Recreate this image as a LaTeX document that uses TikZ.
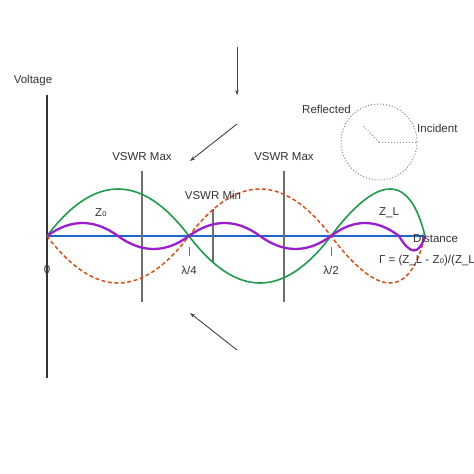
\documentclass[tikz,border=0pt]{standalone}
\usepackage{fontspec}
\setmainfont{Liberation Sans}
\newfontfamily\dejavu{DejaVu Sans}
\usetikzlibrary{arrows.meta}
\definecolor{txt}{HTML}{333333}
\definecolor{axisc}{HTML}{333333}
\definecolor{vline}{HTML}{6E6E6E}
\definecolor{blueline}{HTML}{1E66C8}
\definecolor{greenc}{HTML}{1F9A4A}
\definecolor{purplec}{HTML}{9A1FCC}
\definecolor{orangec}{HTML}{D2521C}
\definecolor{arrowc}{HTML}{444444}
\definecolor{dotc}{HTML}{888888}
\tikzset{
  lbl/.style={font=\fontsize{11.5}{13}\selectfont, text=txt, inner sep=0pt},
  marker/.style={vline, line width=1.4pt},
  pointer/.style={arrowc, line width=0.9pt, -{Stealth[length=5pt,width=3.5pt]}},
  dotline/.style={dotc, line width=1pt, dotted},
}
\begin{document}
\begin{tikzpicture}[x=1pt,y=-1pt]
\useasboundingbox (0,0) rectangle (474,474);
\clip (0,0) rectangle (474,474);
\fill[white] (0,0) rectangle (474,474);

% axes
\coordinate (ytop) at (47,95);
\coordinate (ybot) at (47,378);
\coordinate (o) at (47,236);
\coordinate (xend) at (425,236);
\draw[axisc, line width=1.8pt] (ytop) -- (ybot);
\draw[blueline, line width=2.4pt] (o) -- (xend);

% vertical markers
\coordinate (m1t) at (142,171); \coordinate (m1b) at (142,302);
\coordinate (m2t) at (284,171); \coordinate (m2b) at (284,302);
\coordinate (m3t) at (213,209); \coordinate (m3b) at (213,263);
\draw[marker] (m1t) -- (m1b);
\draw[marker] (m2t) -- (m2b);
\draw[marker] (m3t) -- (m3b);
\coordinate (t1a) at (189,247); \coordinate (t1b) at (189,256);
\coordinate (t2a) at (331,247); \coordinate (t2b) at (331,256);
\draw[vline, line width=1pt] (t1a) -- (t1b);
\draw[vline, line width=1pt] (t2a) -- (t2b);

% curves
\draw[orangec, line width=1.5pt, dash pattern=on 4pt off 2.5pt]
  (47,236) .. controls (94.33,298.67) and (141.67,298.67) .. (189,236)
  .. controls (236.33,173.33) and (283.67,173.33) .. (331,236)
  .. controls (378.33,298.67) and (409.67,298.67) .. (425,236);
\draw[greenc, line width=1.6pt]
  (47,236) .. controls (94.33,173.33) and (141.67,173.33) .. (189,236)
  .. controls (236.33,298.67) and (283.67,298.67) .. (331,236)
  .. controls (378.33,173.33) and (409.67,173.33) .. (425,236);
\draw[purplec, line width=2.3pt]
  (47,236) .. controls (70.67,218.67) and (94.33,218.67) .. (118,236)
  .. controls (141.67,253.33) and (165.33,253.33) .. (189,236)
  .. controls (212.67,218.67) and (236.33,218.67) .. (260,236)
  .. controls (283.67,253.33) and (307.33,253.33) .. (331,236)
  .. controls (353.67,218.67) and (376.33,218.67) .. (399,236)
  .. controls (410.33,255.33) and (419,255.33) .. (425,236);

% labels
\node[lbl] (voltage) at (33,81) {Voltage};
\node[lbl] (vmax1) at (142,157) {VSWR Max};
\node[lbl] (vmax2) at (284,157) {VSWR Max};
\node[lbl] (vmin) at (213,195) {VSWR Min};
\node[lbl, anchor=west] (z0) at (95,213) {Z{\dejavu ₀}};
\node[lbl] (zl) at (389,213) {Z\_L};
\node[lbl] (zero) at (47,270) {0};
\node[lbl] (l4) at (189,270) {λ/4};
\node[lbl] (l2) at (331,270) {λ/2};
\node[lbl, anchor=west] (dist) at (413,238) {Distance};
\node[lbl, anchor=west] (gamma) at (379,261) {Γ = (Z\_L - Z{\dejavu ₀})/(Z\_L};
\node[lbl, anchor=east] (refl) at (351,109) {Reflected};
\node[lbl, anchor=west] (inc) at (417,128) {Incident};

% phasor circle
\coordinate (pc) at (379,142);
\coordinate (pinc) at (417,142);
\coordinate (pref) at (362,125);
\draw[dotline] (pc) circle[radius=38];
\draw[dotline] (pc) -- (pinc);
\draw[dotline] (pc) -- (pref);

% arrows
\coordinate (a1s) at (237,47); \coordinate (a1e) at (237,95);
\coordinate (a2s) at (237,124); \coordinate (a2e) at (190,161);
\coordinate (a3s) at (237,350); \coordinate (a3e) at (190,313);
\draw[pointer] (a1s) -- (a1e);
\draw[pointer] (a2s) -- (a2e);
\draw[pointer] (a3s) -- (a3e);
\end{tikzpicture}
\end{document}
